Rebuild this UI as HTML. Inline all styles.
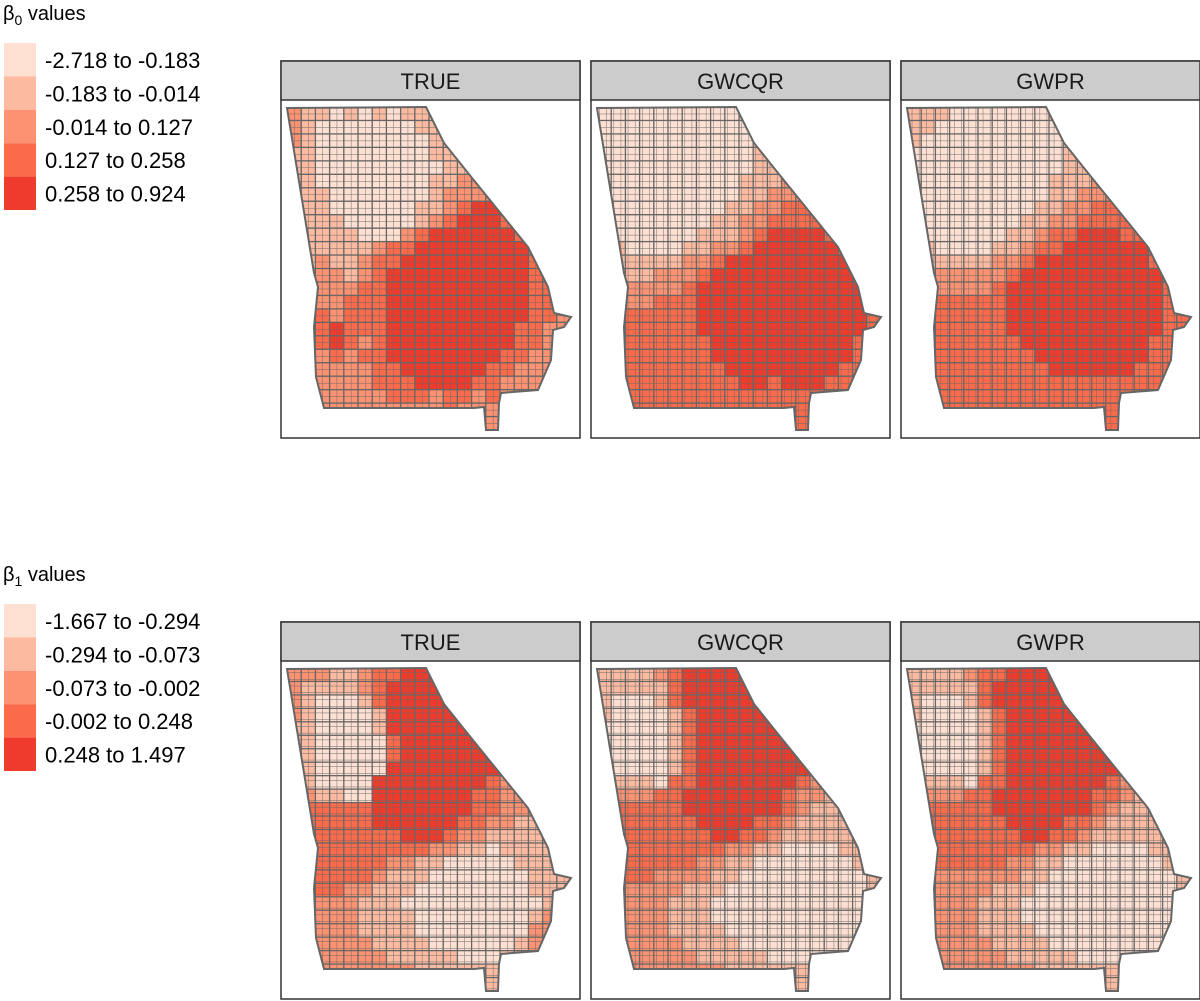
<!DOCTYPE html>
<html><head><meta charset="utf-8">
<style>
html,body{margin:0;padding:0;background:#fff;}
svg{display:block;font-family:"Liberation Sans",Arial,sans-serif;}
</style></head>
<body>
<svg id="chart" width="1200" height="1001" viewBox="0 0 1200 1001" xmlns="http://www.w3.org/2000/svg">
<defs>
<pattern id="county-lines" x="287" y="107" width="7.1" height="6.73" patternUnits="userSpaceOnUse">
<path d="M0 0 H7.1 M0 0 V6.73" stroke="#666" stroke-width="0.9" fill="none"/>
</pattern>
</defs>
</svg>
<script>
// ---- data ----
const legendColors = ["#FEE0D2","#FCBBA1","#FC9272","#FB6A4A","#EF3B2C"];
const legendLabelsB0 = ["-2.718 to -0.183","-0.183 to -0.014","-0.014 to 0.127","0.127 to 0.258","0.258 to 0.924"];
const legendLabelsB1 = ["-1.667 to -0.294","-0.294 to -0.073","-0.073 to -0.002","-0.002 to 0.248","0.248 to 1.497"];
const panelTitles = ["TRUE","GWCQR","GWPR"];

const gridTrueB0 = [
"32212121222222222222","32111111122222222222","32111111112222222222","22111111112222222222",
"22111111111223333333","22111111112233333333","22211111112333333333","22211111122345533333",
"22221111123455543333","22222111345555554333","22222234455555555433","22322344555555555443",
"33332345555555555443","33333445555555555443","33334445555555555443","33434445555555555443",
"33454445555555554433","33454345555555554433","33343445555555544333","33333344555555443333",
"33333344455554433333","33333334443443433333","33333333333433333333","33333333333433333333"];
const gridGwcqrB0 = [
"11111111112222222222","11111111111222222222","11111111111222222222","11111111111222222222",
"11111111111222222222","11111111112223333333","11111111112233333333","11111111122334433333",
"11111111223344444444","21111112223455554444","22111122334555555444","22222233455555555544",
"22223334555555555554","33333345555555555554","33334445555555555554","44444445555555555554",
"44444445555555555554","44444444555555555544","44444444555555555544","44444444455555555444",
"44444444445545554444","44444444444444444444","44444444444444444444","44444444444444444444"];
const gridGwprB0 = [
"22211111112222222222","22111111111222222222","21111111111222222222","11111111111222222222",
"11111111111222222222","11111111112223333333","11111111112233333333","11111111122334433333",
"11111111223344444444","21111112234455544444","22111122344555555444","22222233455555555444",
"33333334555555555544","33333345555555555544","44444445555555555544","44444445555555555544",
"44444445555555555544","44444444555555555444","44444444455555555444","44444444445555554444",
"44444444444444444444","44444444444444444444","44444444444444444444","44444444444444444444"];
const gridTrueB1 = [
"33322344555222222222","32222345555522222222","32111245555552222222","32111125555555222222",
"22111125555555522222","22111114555555553333","22111114555555553333","22111115555555553333",
"22111155555555433333","33221155555554433333","34444455555554433333","34444455555544332222",
"34444444555433222222","44444444443322122222","34444443322111112222","44444432221111111222",
"34443322211111111222","34333222111111111122","33333222211111111232","33333222211111111333",
"33333322221111112333","33333332222211122333","33333333322222223333","33333333322222223333"];
const gridGwcqrB1 = [
"22223455555222222222","22222455555522222222","21112455555552222222","21111245555555222222",
"11111245555555522222","11111245555555553333","11111245555555553333","21111245555555553333",
"22221445555555433333","33334455555554332222","34444455555554322222","44444445555443222222",
"44444444554432222222","44444444433221111222","44444443322111111122","34443333221111111112",
"33333322211111111112","33333222111111111112","33333222111111111112","33333222211111111112",
"33333322221111111122","33333332222211111222","33333333322222221222","33333333322222221222"];
const gridGwprB1 = [
"22223445555222222222","22222455555522222222","21112455555552222222","21111245555555222222",
"11111245555555522222","11111245555555553333","11111245555555553333","21111245555555553333",
"22221445555555433333","33334455555554432222","34444455555554322222","44444445555443222222",
"44444444554432222222","44444444433221111222","33444443322111111122","33333333221111111112",
"33333322211111111112","33333222111111111112","33333222111111111112","33333222211111111112",
"33333322221111111122","33333332222211111222","33333333322222222222","33333333322222222222"];

const panelGridsTop = [gridTrueB0, gridGwcqrB0, gridGwprB0];
const panelGridsBottom = [gridTrueB1, gridGwcqrB1, gridGwprB1];

// ---- geometry ----
const NS = "http://www.w3.org/2000/svg";
const svg = document.getElementById("chart");
const defs = svg.querySelector("defs");
const stateOutline = [[287,108],[426,107],[444,143],[468,173],[498,210],[528,247],[548,287],[554,313],[571,317],[564,327],[553,330],[551,360],[538,390],[501,393],[499,403],[498,430],[486,430],[484,407],[474,408],[324,408],[316,377],[314,327],[318,287],[314,273]];
const mapX0 = 287, mapY0 = 107, mapW = 284, mapH = 323;
function mk(tag, attrs, parent){ const e=document.createElementNS(NS,tag); for(const k in attrs) e.setAttribute(k,attrs[k]); (parent||svg).appendChild(e); return e; }

function drawLegend(y0, labels, idx){
  const g = mk("g",{});
  
  
  const t = mk("text",{x:3,y:y0+20,"font-size":20,fill:"#000"},g);
  
  
  t.innerHTML = 'β<tspan font-size="14" dy="5">'+idx+'</tspan><tspan dy="-5"> values</tspan>';
  const sh = 33.4;
  labels.forEach((lab,i)=>{
    const r = mk("rect",{x:4,y:y0+43+i*sh,width:32,height:sh,fill:legendColors[i]},g);
    
    
    const tx = mk("text",{x:45,y:y0+43+i*sh+25,"font-size":22,fill:"#000"},g);
    
    
    tx.textContent = lab;
  });
}

function drawPanel(dx, dy, title, grid, key){
  const g = mk("g",{});
  
  
  const box = mk("rect",{x:281+dx,y:61+dy,width:299,height:377,fill:"#fff",stroke:"#333","stroke-width":1.5},g);
  
  
  const strip = mk("rect",{x:281+dx,y:61+dy,width:299,height:39,fill:"#cccccc",stroke:"#333","stroke-width":1.5},g);
  
  
  const st = mk("text",{x:430.5+dx,y:89+dy,"font-size":22,fill:"#1a1a1a","text-anchor":"middle"},g);
  
  
  st.textContent = title;
  const pts = stateOutline.map(p=>(p[0]+dx)+","+(p[1]+dy)).join(" ");
  const cp = mk("clipPath",{id:"clip-"+key},defs);
  mk("polygon",{points:pts},cp);
  const mg = mk("g",{"clip-path":"url(#clip-"+key+")"},g);
  
  
  const rows = grid.length, cols = grid[0].length;
  const cw = mapW/cols, ch = mapH/rows;
  for(let r=0;r<rows;r++){
    for(let c=0;c<cols;c++){
      const cls = +grid[r][c];
      const cell = mk("rect",{x:mapX0+dx+c*cw,y:mapY0+dy+r*ch,width:cw+0.3,height:ch+0.3,fill:legendColors[cls-1],stroke:"#666","stroke-width":1.3},mg);
      
      
    }
  }
  const ov = mk("rect",{x:mapX0+dx-2,y:mapY0+dy-2,width:mapW+4,height:mapH+4,fill:"url(#county-lines)"},mg);
  
  
  const ol = mk("polygon",{points:pts,fill:"none",stroke:"#666","stroke-width":2},g);
  
  
}

drawLegend(0, legendLabelsB0, 0);
drawLegend(561, legendLabelsB1, 1);
const dxs = [0,310,620];
panelTitles.forEach((t,i)=>drawPanel(dxs[i],0,t,panelGridsTop[i],"b0-"+i));
panelTitles.forEach((t,i)=>drawPanel(dxs[i],561,t,panelGridsBottom[i],"b1-"+i));
</script>
</body></html>
